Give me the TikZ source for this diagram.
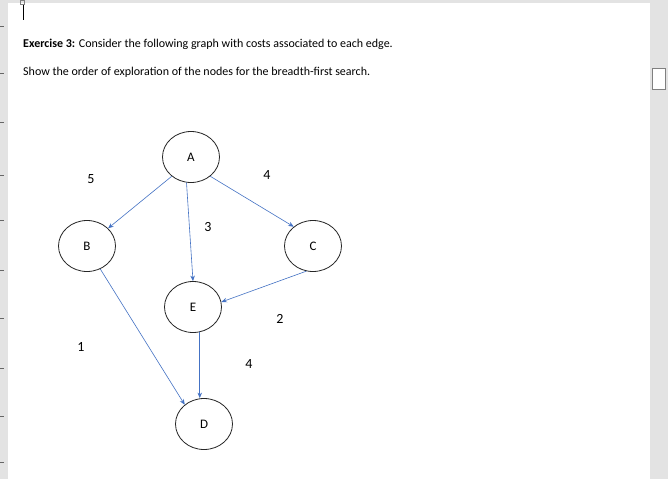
\documentclass[tikz,border=0pt]{standalone}
\usepackage{fontspec}
\setmainfont{Carlito}
\usetikzlibrary{shapes.geometric,arrows.meta}
\begin{document}
\begin{tikzpicture}[x=1pt,y=-1pt,
  vert/.style={draw=black!85,line width=0.8pt,ellipse,minimum width=57pt,minimum height=51pt,inner sep=0pt,font=\fontsize{13}{14}\selectfont,fill=white},
  edge/.style={draw={rgb,255:red,68;green,114;blue,196},-{Stealth[length=5.5pt,width=4.5pt]},line width=0.6pt},
  cost/.style={font=\fontsize{14}{16}\selectfont}]
\useasboundingbox (0,0) rectangle (668,479);
\fill[black!11] (0,0) rectangle (668,479);
\fill[white] (8,3) rectangle (650,479);
\draw[black!50,fill=white] (652,68) rectangle (665,89);
\foreach \y in {26,73,122,175,220,270,318,368,416,462} \draw[black!60] (0,\y) -- (4,\y);
\draw[black!50] (20,0) rectangle (24,4);
\draw[black] (23,5) -- (23,20);
\node[anchor=west,inner sep=0pt,font=\fontsize{12}{14}\selectfont] (t1) at (23,44) {\textbf{Exercise 3:} Consider the following graph with costs associated to each edge.};
\node[anchor=west,inner sep=0pt,font=\fontsize{12}{14}\selectfont] (t2) at (23,72) {Show the order of exploration of the nodes for the breadth-first search.};
\node[vert] (A) at (191,157) {A};
\node[vert] (B) at (87,246) {B};
\node[vert] (C) at (313,246) {C};
\node[vert] (E) at (193,307) {E};
\node[vert] (D) at (204,424) {D};
\draw[edge] (A.225) -- (B.40);
\draw[edge] (A.260) -- (E.90);
\draw[edge] (A.315) -- (C.135);
\draw[edge] (C.255) -- (E.10);
\draw[edge] (E.285) -- (E.285 |- D.north);
\draw[edge] (B.300) -- (D.135);
\node[cost] (l5) at (91,179) {5};
\node[cost] (l4a) at (267,175) {4};
\node[cost] (l3) at (208,227) {3};
\node[cost] (l2) at (280,319) {2};
\node[cost] (l1) at (81,347) {1};
\node[cost] (l4b) at (249,364) {4};
\end{tikzpicture}
\end{document}
